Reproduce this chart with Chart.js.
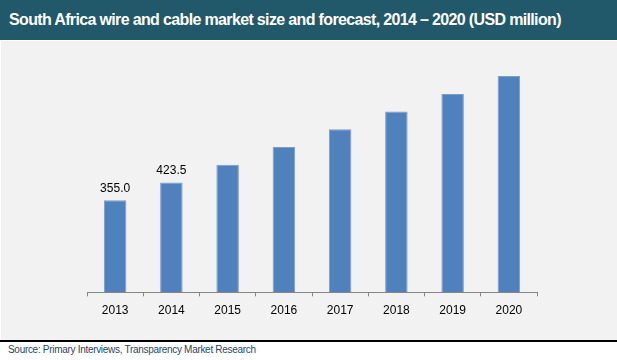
<!DOCTYPE html>
<html lang="en">
<head>
    <meta charset="UTF-8">
    <title>South Africa wire and cable market</title>
    <script src="https://cdn.jsdelivr.net/npm/chart.js"></script>
    <style>
        body { margin: 0; background: #ffffff; font-family: "Liberation Sans", Arial, sans-serif; }
        #page { position: relative; width: 617px; height: 360px; overflow: hidden; }
        #title {
            position: absolute; left: 0; top: 0; width: 617px; height: 40px;
            background: #21586a; color: #ffffff;
            font-weight: bold; font-size: 16px; letter-spacing: -0.65px;
            line-height: 40px; padding-left: 9px; box-sizing: border-box; white-space: nowrap;
        }
        #panel { position: absolute; left: 1px; top: 41px; width: 616px; height: 299px; background: #f2f2f2; }
        #rule { position: absolute; left: 0; top: 340px; width: 617px; height: 2px; background: #000000; }
        #source {
            position: absolute; left: 8px; top: 344px; font-size: 10px; letter-spacing: -0.3px;
            color: #24466a; white-space: nowrap;
        }
    </style>
</head>
<body>
<div id="page">
    <div id="title">South Africa wire and cable market size and forecast, 2014 – 2020 (USD million)</div>
    <div id="panel"><canvas id="marketChart" width="616" height="299"></canvas></div>
    <div id="rule"></div>
    <div id="source">Source: Primary Interviews, Transparency Market Research</div>
</div>

<script>
    // Données
    const years = ['2013', '2014', '2015', '2016', '2017', '2018', '2019', '2020'];
    const marketSize = [355.0, 423.5, 492, 560, 628, 697, 764, 834];
    // Seules les deux premières barres portent une étiquette
    const valueLabels = ['355.0', '423.5', '', '', '', '', '', ''];

    // Petit plugin pour écrire les valeurs au-dessus des barres
    const barLabels = {
        id: 'barLabels',
        afterDatasetsDraw(chart) {
            const ctx = chart.ctx;
            const meta = chart.getDatasetMeta(0);
            ctx.save();
            ctx.font = '12px "Liberation Sans", Arial, sans-serif';
            ctx.fillStyle = '#000000';
            ctx.textAlign = 'center';
            ctx.textBaseline = 'alphabetic';
            meta.data.forEach((bar, i) => {
                if (valueLabels[i]) {
                    ctx.fillText(valueLabels[i], bar.x, bar.y - 8.5);
                }
            });
            ctx.restore();
        }
    };

    const ctx = document.getElementById('marketChart').getContext('2d');
    new Chart(ctx, {
        type: 'bar',
        data: {
            labels: years,
            datasets: [{
                data: marketSize,
                backgroundColor: '#4f81bd',
                borderColor: '#7b9ccc',
                borderWidth: 1,
                barPercentage: 0.4,
                categoryPercentage: 1
            }]
        },
        options: {
            responsive: false,
            animation: false,
            layout: { padding: { left: 86, right: 80, top: 17.8, bottom: 15.3 } },
            plugins: {
                legend: { display: false },
                tooltip: { enabled: false }
            },
            scales: {
                x: {
                    grid: {
                        drawOnChartArea: false,
                        drawTicks: true,
                        tickLength: 4,
                        color: '#868686'
                    },
                    border: { display: true, color: '#868686', width: 1 },
                    ticks: {
                        color: '#000000',
                        padding: 7,
                        font: { family: '"Liberation Sans", Arial, sans-serif', size: 12 }
                    }
                },
                y: {
                    display: false,
                    min: 0,
                    max: 900
                }
            }
        },
        plugins: [barLabels]
    });
</script>
</body>
</html>
